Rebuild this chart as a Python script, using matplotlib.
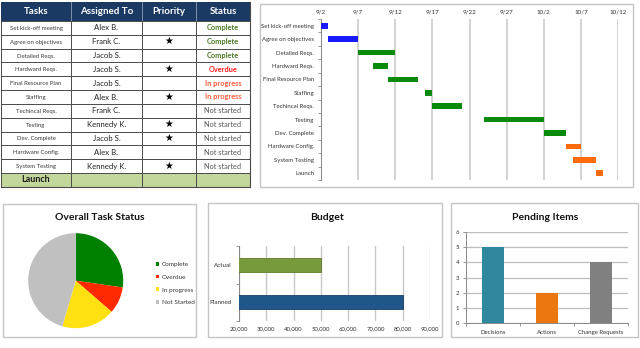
import matplotlib
matplotlib.use("Agg")
import matplotlib.pyplot as plt
import matplotlib.dates as mdates
from matplotlib.patches import Rectangle
import pandas as pd

plt.rcParams['font.family'] = ['Lato', 'DejaVu Sans']

W, H = 640, 348

# ---- project task list ----
tasks = ["Set kick-off meeting", "Agree on objectives", "Detailed Reqs.", "Hardward Reqs.",
         "Final Resource Plan", "Staffing", "Techincal Reqs.", "Testing", "Dev. Complete",
         "Hardware Config.", "System Testing"]
assigned = ["Alex B.", "Frank C.", "Jacob S.", "Jacob S.", "Jacob S.", "Alex B.", "Frank C.",
            "Kennedy K.", "Jacob S.", "Alex B.", "Kennedy K."]
priority = [False, True, False, True, False, True, False, True, True, False, True]
status = ["Complete", "Complete", "Complete", "Overdue", "In progress", "In progress",
          "Not started", "Not started", "Not started", "Not started", "Not started"]
milestone = "Launch"
headers = ["Tasks", "Assigned To", "Priority", "Status"]

# ---- schedule ----
gantt_tasks = tasks + [milestone]
start_dates = ["2014-09-02", "2014-09-03", "2014-09-07", "2014-09-09", "2014-09-11",
               "2014-09-16", "2014-09-17", "2014-09-24", "2014-10-02", "2014-10-05",
               "2014-10-06", "2014-10-09"]
durations = [1, 4, 5, 2, 4, 1, 4, 8, 3, 2, 3, 1]
gantt_colors = ["#1a1aff"] * 2 + ["#0a8a0a"] * 7 + ["#ff6a0a"] * 3
axis_start, axis_end = "2014-09-02", "2014-10-12"

# ---- summary charts ----
status_labels = ["Complete", "Overdue", "In progress", "Not Started"]
status_counts = [3, 1, 2, 5]
status_colors = ["#008000", "#ff2a00", "#ffe010", "#c0c0c0"]

budget_labels = ["Planned", "Actual"]
budget_values = [80000, 50000]
budget_colors = ["#21568a", "#789a3c"]

pending_labels = ["Decisions", "Actions", "Change Requests"]
pending_counts = [5, 2, 4]
pending_colors = ["#31879e", "#ec7610", "#808080"]


def rect(x0, y0, x1, y1):
    return [x0 / W, 1 - y1 / H, (x1 - x0) / W, (y1 - y0) / H]


fig = plt.figure(figsize=(W / 100, H / 100), dpi=100)
bg = fig.add_axes([0, 0, 1, 1])
bg.set_xlim(0, W)
bg.set_ylim(H, 0)
bg.axis('off')

# panel frames
for (x0, y0, x1, y1) in [(260, 4, 633, 187), (3, 204, 196, 337),
                         (208, 203, 442, 337), (451, 203, 638, 337)]:
    bg.add_patch(Rectangle((x0, y0), x1 - x0, y1 - y0, facecolor='white',
                           edgecolor='#c4c4c4', lw=1.0))

# ---- table ----
col_x = [1, 71, 142, 196, 250]
head_top, head_bot = 2, 21
launch_top, table_bot = 173, 187
row_h = (launch_top - head_bot) / len(tasks)
line_c = '#4a4a4a'

bg.add_patch(Rectangle((col_x[0], head_top), col_x[-1] - col_x[0], head_bot - head_top,
                       facecolor='#1b3a63', edgecolor='none'))
for j, h in enumerate(headers):
    bg.text((col_x[j] + col_x[j + 1]) / 2, (head_top + head_bot) / 2 + 0.5, h,
            color='white', fontsize=7.0, fontweight='bold', ha='center', va='center')
    if j > 0:
        bg.plot([col_x[j]] * 2, [head_top, head_bot], color='#8fa0b8', lw=0.6)

status_style = {"Complete": ("#4a7a22", 'bold'), "Overdue": ("#ff1a1a", 'bold'),
                "In progress": ("#ff5a3a", 'bold'), "Not started": ("#555555", 'normal')}
for i in range(len(tasks)):
    yc = head_bot + (i + 0.5) * row_h
    bg.text((col_x[0] + col_x[1]) / 2, yc + 0.5, tasks[i], fontsize=4.3, color='#3a3a3a',
            ha='center', va='center')
    bg.text((col_x[1] + col_x[2]) / 2, yc, assigned[i], fontsize=5.6, color='#222222',
            ha='center', va='center')
    if priority[i]:
        bg.text((col_x[2] + col_x[3]) / 2, yc - 0.5, "\u2605", fontsize=7, color='black',
                ha='center', va='center', family='DejaVu Sans')
    c, wgt = status_style[status[i]]
    bg.text((col_x[3] + col_x[4]) / 2, yc, status[i], fontsize=5.3, color=c,
            fontweight=wgt, ha='center', va='center')

bg.add_patch(Rectangle((col_x[0], launch_top), col_x[-1] - col_x[0], table_bot - launch_top,
                       facecolor='#c3d69b', edgecolor='none'))
bg.text((col_x[0] + col_x[1]) / 2, (launch_top + table_bot) / 2, milestone, fontsize=6.5,
        fontweight='bold', color='#1a1a1a', ha='center', va='center')

for i in range(len(tasks) + 1):
    y = head_bot + i * row_h
    bg.plot([col_x[0], col_x[-1]], [y, y], color=line_c, lw=0.7)
bg.plot([col_x[0], col_x[-1]], [table_bot, table_bot], color=line_c, lw=0.8)
for x in col_x:
    bg.plot([x, x], [head_bot, table_bot], color=line_c, lw=0.7)
bg.plot([col_x[-1]] * 2, [head_top, table_bot], color=line_c, lw=0.8)

# ---- Gantt chart ----
ax_g = fig.add_axes(rect(321, 19, 618, 180))
starts = mdates.date2num(pd.to_datetime(start_dates))
ypos = list(range(len(gantt_tasks)))
ax_g.barh(ypos, durations, left=starts, height=0.42, color=gantt_colors, zorder=3)
ax_g.set_ylim(len(gantt_tasks) - 0.5, -0.5)
ticks = pd.date_range(axis_start, axis_end, freq='5D')
ax_g.set_xlim(mdates.date2num(ticks[0]), mdates.date2num(ticks[-1]))
ax_g.set_xticks(mdates.date2num(ticks))
ax_g.set_xticklabels([f"{d.month}/{d.day}" for d in ticks])
ax_g.xaxis.tick_top()
ax_g.tick_params(axis='x', length=0, labelsize=4.5, labelcolor='#333333', pad=3)
ax_g.set_yticks(ypos)
ax_g.set_yticklabels(gantt_tasks)
ax_g.set_yticks([y + 0.5 for y in range(-1, len(gantt_tasks))], minor=True)
ax_g.tick_params(axis='y', which='major', length=0, labelsize=4.3, labelcolor='#333333', pad=5)
ax_g.tick_params(axis='y', which='minor', length=2, color='#888888', width=0.6)
ax_g.grid(axis='x', color='#c8c8c8', lw=1.1, zorder=0)
for s in ['top', 'right', 'bottom']:
    ax_g.spines[s].set_visible(False)
ax_g.spines['left'].set_color('#888888')
ax_g.spines['left'].set_linewidth(0.7)

# ---- status pie ----
ax_p = fig.add_axes(rect(28.2, 233.2, 123.2, 328.2))
wedges, _ = ax_p.pie(status_counts, colors=status_colors, startangle=90, counterclock=False,
                     radius=1.0, wedgeprops=dict(linewidth=0))
ax_p.set_xlim(-1, 1)
ax_p.set_ylim(-1, 1)
ax_p.set_aspect('equal')
fig.legend(wedges, status_labels, loc='upper left',
           bbox_to_anchor=(150 / W, 1 - 256 / H), frameon=False, fontsize=4.6,
           handlelength=0.55, handleheight=0.55, handletextpad=0.4, labelspacing=1.2,
           labelcolor='#333333')
bg.text(99.5, 218, "Overall Task Status", fontsize=7.5, fontweight='bold',
        ha='center', va='center', color='#111111')

# ---- budget ----
ax_b = fig.add_axes(rect(239, 246, 430, 321))
ax_b.barh(range(len(budget_labels)), budget_values, height=0.38, color=budget_colors,
          edgecolor=['#173f66', '#5e7a2e'], lw=0.6, zorder=3)
ax_b.set_xlim(20000, 90000)
ax_b.set_ylim(-0.5, len(budget_labels) - 0.5)
ax_b.set_xticks(range(20000, 90001, 10000))
ax_b.set_xticklabels([f"{v:,}" for v in range(20000, 90001, 10000)])
ax_b.set_yticks(range(len(budget_labels)))
ax_b.set_yticklabels(budget_labels)
ax_b.set_yticks([-0.5, 0.5, 1.5], minor=True)
ax_b.tick_params(axis='x', length=0, labelsize=4.3, labelcolor='#333333', pad=4)
ax_b.tick_params(axis='y', which='major', length=0, labelsize=4.5, labelcolor='#333333', pad=5)
ax_b.tick_params(axis='y', which='minor', length=2, color='#888888', width=0.6)
ax_b.grid(axis='x', color='#c8c8c8', lw=1.0, zorder=0)
for s in ['top', 'right', 'bottom']:
    ax_b.spines[s].set_visible(False)
ax_b.spines['left'].set_color('#888888')
ax_b.spines['left'].set_linewidth(0.7)
bg.text(327, 218, "Budget", fontsize=7.5, fontweight='bold', ha='center', va='center',
        color='#111111')

# ---- pending items ----
ax_c = fig.add_axes(rect(466, 232, 628, 323))
ax_c.bar(range(len(pending_labels)), pending_counts, width=0.4, color=pending_colors, zorder=3)
ax_c.set_ylim(0, 6)
ax_c.set_xlim(-0.5, len(pending_labels) - 0.5)
ax_c.set_yticks(range(0, 7))
ax_c.set_xticks(range(len(pending_labels)))
ax_c.set_xticklabels(pending_labels)
ax_c.set_xticks([-0.5, 0.5, 1.5, 2.5], minor=True)
ax_c.tick_params(axis='x', which='major', length=0, labelsize=4.3, labelcolor='#333333', pad=5)
ax_c.tick_params(axis='x', which='minor', length=2, color='#888888', width=0.6)
ax_c.tick_params(axis='y', length=2, labelsize=4.3, labelcolor='#333333', color='#888888',
                 width=0.6, pad=3)
ax_c.grid(axis='y', color='#bdbdbd', lw=0.9, zorder=0)
for s in ['top', 'right']:
    ax_c.spines[s].set_visible(False)
for s in ['left', 'bottom']:
    ax_c.spines[s].set_color('#888888')
    ax_c.spines[s].set_linewidth(0.7)
bg.text(545, 217, "Pending Items", fontsize=7.5, fontweight='bold', ha='center', va='center',
        color='#111111')

fig.savefig("out.png", dpi=100)
